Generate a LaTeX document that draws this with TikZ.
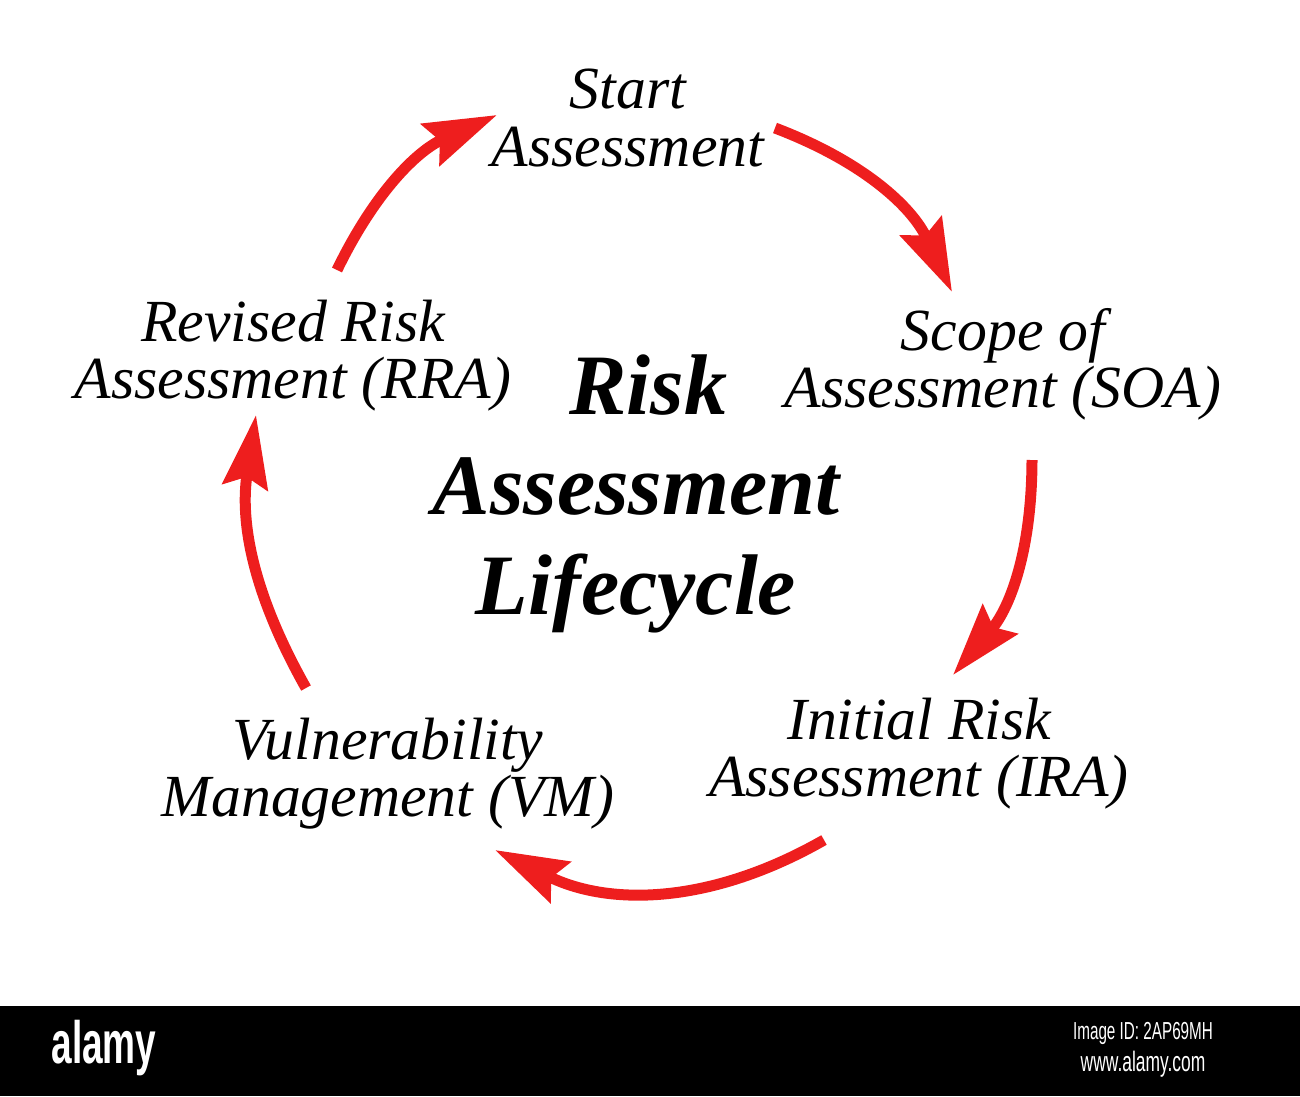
\documentclass[tikz,border=0pt]{standalone}
\usepackage{fontspec}
\setmainfont{Liberation Serif}
\newfontfamily\bannerfont[FakeStretch=0.62]{Liberation Sans}
\usetikzlibrary{arrows.meta}
\definecolor{arrowred}{RGB}{238,30,30}
\tikzset{
	phase label/.style={font=\fontsize{34}{32.5}\selectfont\itshape, align=center, inner sep=0pt},
	title label/.style={font=\fontsize{49}{57}\selectfont\bfseries\itshape, align=center, inner sep=0pt},
	cycle arrow/.style={arrowred, line width=0.22cm, -{Stealth[length=1.45cm,width=0.9cm,inset=0.2cm]}},
	banner text/.style={white, inner sep=0pt}
}
\begin{document}
\begin{tikzpicture}[x=0.02cm,y=-0.02cm]
\useasboundingbox (0,0) rectangle (1300,1096);
%Phasen
\node[phase label] (start) at (628,118) {Start\\Assessment};
\node[phase label] (soa) at (1003,364) {Scope of\\Assessment (SOA)};
\node[phase label] (ira) at (919,754) {Initial Risk\\Assessment (IRA)};
\node[phase label] (vm) at (388,774) {Vulnerability\\Management (VM)};
\node[phase label] (rra) at (293,356) {Revised Risk\\Assessment (RRA)};
%Titel
\node[title label] (title) at (636,494) {\hspace{0.5cm}Risk\\Assessment\\Lifecycle};
%Pfeile
\coordinate (rra out) at (337,270);
\coordinate (start in) at (497,115);
\coordinate (start out) at (775,128);
\coordinate (soa in) at (952,292);
\coordinate (soa out) at (1032,460);
\coordinate (ira in) at (953,675);
\coordinate (ira out) at (824,840);
\coordinate (vm in) at (495,850);
\coordinate (vm out) at (306,688);
\coordinate (rra in) at (256,415);
\draw[cycle arrow] (rra out) to[bend left=20] (start in);
\draw[cycle arrow] (start out) to[bend left=22] (soa in);
\draw[cycle arrow] (soa out) to[bend left=20] (ira in);
\draw[cycle arrow] (ira out) to[bend left=28] (vm in);
\draw[cycle arrow] (vm out) to[bend left=19] (rra in);
%Leiste
\fill[black] (0,1006) rectangle (1300,1096);
\node[banner text, font=\bannerfont\bfseries\fontsize{34}{34}\selectfont] (logo) at (104,1048) {alamy};
\node[banner text, font=\bannerfont\fontsize{14}{14}\selectfont] (imgid) at (1143,1033) {Image ID: 2AP69MH};
\node[banner text, font=\bannerfont\fontsize{16}{16}\selectfont] (web) at (1143,1064) {www.alamy.com};
\end{tikzpicture}
\end{document}
